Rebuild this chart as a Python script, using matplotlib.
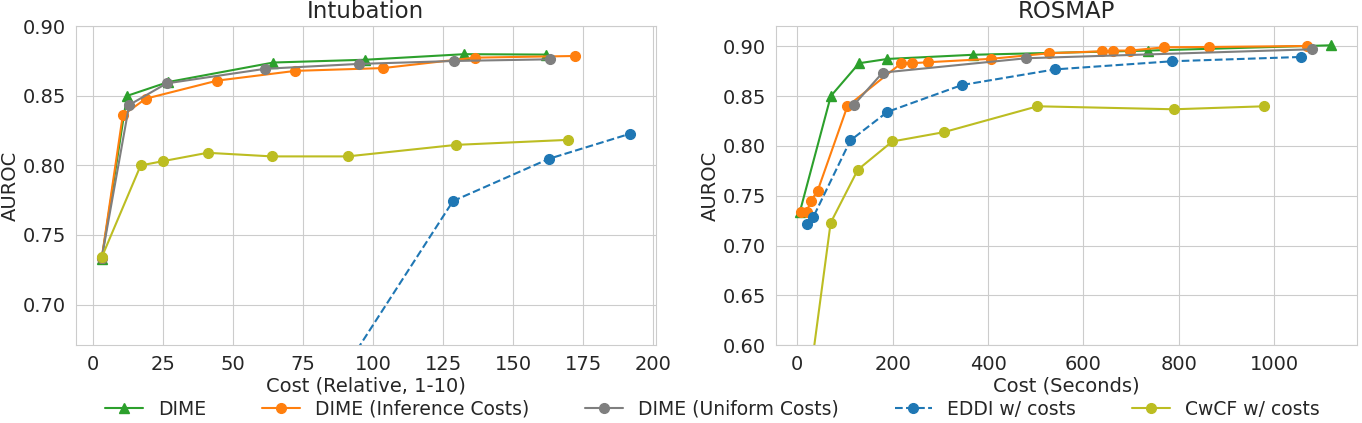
import matplotlib
matplotlib.use("Agg")
import matplotlib.pyplot as plt
import seaborn as sns

sns.set_style("whitegrid")
plt.rcParams["font.family"] = ["DejaVu Sans"]

# --- Intubation ---
intu_dime_x = [3, 12, 26.8, 64.3, 97.2, 132.6, 161.6]
intu_dime_y = [0.733, 0.850, 0.860, 0.874, 0.876, 0.880, 0.8797]
intu_inf_x = [3, 10.5, 18.7, 44.3, 72.2, 103.5, 136.2, 172.2]
intu_inf_y = [0.7335, 0.836, 0.848, 0.861, 0.868, 0.870, 0.8775, 0.8787]
intu_uni_x = [3, 12.8, 26.2, 61.4, 95.0, 128.8, 163.0]
intu_uni_y = [0.7335, 0.8435, 0.859, 0.8695, 0.873, 0.8751, 0.8763]
intu_eddi_x = [62, 128.5, 162.8, 191.6]
intu_eddi_y = [0.567, 0.7744, 0.8048, 0.8227]
intu_cwcf_x = [3, 16.9, 24.9, 40.8, 63.8, 90.8, 129.7, 169.7]
intu_cwcf_y = [0.734, 0.800, 0.8031, 0.8091, 0.8065, 0.8065, 0.8148, 0.8184]

# --- ROSMAP ---
ros_dime_x = [5, 70.2, 129.5, 189, 369.5, 736, 1119]
ros_dime_y = [0.7333, 0.8500, 0.8830, 0.8873, 0.8915, 0.8957, 0.9010]
ros_inf_x = [7.7, 19.6, 28.7, 42.6, 105, 218, 240.5, 273.5, 405.8, 528, 640, 663,
             697.6, 770, 862.8, 1069]
ros_inf_y = [0.734, 0.734, 0.745, 0.755, 0.8398, 0.883, 0.883, 0.884, 0.8874, 0.893,
             0.895, 0.8957, 0.8957, 0.899, 0.8993, 0.9003]
ros_uni_x = [118.6, 179, 480, 1079.5]
ros_uni_y = [0.8412, 0.8736, 0.8880, 0.8970]
ros_eddi_x = [20.3, 33.4, 111.2, 189, 345, 540, 786.8, 1057]
ros_eddi_y = [0.7219, 0.7286, 0.8055, 0.8342, 0.8611, 0.8768, 0.8850, 0.8893]
ros_cwcf_x = [15, 69.9, 127, 199.2, 307, 503.7, 790, 979]
ros_cwcf_y = [0.526, 0.7229, 0.7762, 0.8045, 0.8138, 0.8398, 0.8368, 0.8398]

labels = ["DIME", "DIME (Inference Costs)", "DIME (Uniform Costs)",
          "EDDI w/ costs", "CwCF w/ costs"]
colors = ["#2ca02c", "#ff7f0e", "#7f7f7f", "#1f77b4", "#bcbd22"]
markers = ["^", "o", "o", "o", "o"]
styles = ["-", "-", "-", "--", "-"]

fig = plt.figure(figsize=(13.62, 4.23), dpi=100)
ax1 = fig.add_axes([0.0556, 0.1837, 0.426, 0.754])
ax2 = fig.add_axes([0.5694, 0.1837, 0.427, 0.754])

panels = [
    (ax1, [(intu_dime_x, intu_dime_y), (intu_inf_x, intu_inf_y), (intu_uni_x, intu_uni_y),
           (intu_eddi_x, intu_eddi_y), (intu_cwcf_x, intu_cwcf_y)],
     "Intubation", "Cost (Relative, 1-10)"),
    (ax2, [(ros_dime_x, ros_dime_y), (ros_inf_x, ros_inf_y), (ros_uni_x, ros_uni_y),
           (ros_eddi_x, ros_eddi_y), (ros_cwcf_x, ros_cwcf_y)],
     "ROSMAP", "Cost (Seconds)"),
]

for ax, series, title, xlabel in panels:
    for (x, y), lab, c, m, ls in zip(series, labels, colors, markers, styles):
        ax.plot(x, y, color=c, marker=m, linestyle=ls, markersize=7,
                linewidth=1.5, label=lab)
    ax.set_title(title, fontsize=16.5)
    ax.set_xlabel(xlabel, fontsize=14, labelpad=2)
    ax.set_ylabel("AUROC", fontsize=14, labelpad=2)
    ax.tick_params(labelsize=14)

ax1.set_xlim(-6.3, 201)
ax1.set_ylim(0.6707, 0.90)
ax1.set_xticks([0, 25, 50, 75, 100, 125, 150, 175, 200])
ax1.set_yticks([0.70, 0.75, 0.80, 0.85, 0.90])

ax2.set_xlim(-45.7, 1174)
ax2.set_ylim(0.60, 0.92)
ax2.set_xticks([0, 200, 400, 600, 800, 1000])
ax2.set_yticks([0.60, 0.65, 0.70, 0.75, 0.80, 0.85, 0.90])

handles, labs = ax1.get_legend_handles_labels()
fig.legend(handles, labs, loc="lower center", bbox_to_anchor=(0.523, -0.03),
           ncol=5, frameon=False, fontsize=13.5, columnspacing=3.0)

fig.savefig("out.png", dpi=100)
